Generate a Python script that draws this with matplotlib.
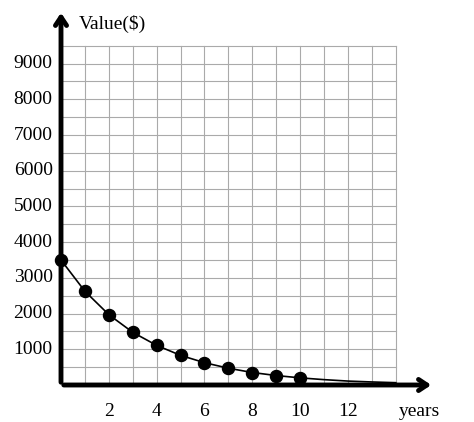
import matplotlib.pyplot as plt
import numpy as np

years = [0, 1, 2, 3, 4, 5, 6, 7, 8, 9, 10]
values = [3500, 2625, 1970, 1475, 1110, 830, 625, 470, 350, 265, 200]
curve_years = [0, 1, 2, 3, 4, 5, 6, 7, 8, 9, 10, 11, 12, 13, 14]
curve_values = [3500, 2625, 1970, 1475, 1110, 830, 625, 470, 350, 265, 200, 150, 110, 85, 65]
xticks = [2, 4, 6, 8, 10, 12]
yticks = [1000, 2000, 3000, 4000, 5000, 6000, 7000, 8000, 9000]

plt.rcParams['font.family'] = ['Liberation Serif']
W, H = 474, 422
fig = plt.figure(figsize=(W/100, H/100), dpi=100)
ax = fig.add_axes([61/W, (H-385)/H, 373/W, 375/H])
ax.set_xlim(0, 15.6)
ax.set_ylim(0, 10500)
for s in ax.spines.values():
    s.set_visible(False)
ax.set_xticks([]); ax.set_yticks([])

for x in range(1, 15):
    ax.plot([x, x], [0, 9500], color='#aaaaaa', lw=0.8, zorder=1)
for y in range(500, 10000, 500):
    ax.plot([0, 14], [y, y], color='#aaaaaa', lw=0.8, zorder=1)

ax.annotate('', xy=(15.6, 0), xytext=(0, 0), annotation_clip=False,
            arrowprops=dict(arrowstyle='->,head_length=0.6,head_width=0.4', lw=3.5, color='black'), zorder=4)
ax.annotate('', xy=(0, 10500), xytext=(0, 0), annotation_clip=False,
            arrowprops=dict(arrowstyle='->,head_length=0.6,head_width=0.4', lw=3.5, color='black'), zorder=4)

ax.plot(curve_years, curve_values, color='black', lw=1.2, zorder=3)
ax.scatter(years, values, s=75, color='black', zorder=5, clip_on=False)

for t in xticks:
    ax.text(t, -750, str(t), ha='center', va='center', fontsize=14)
for t in yticks:
    ax.text(-0.35, t, str(t), ha='right', va='center', fontsize=14)
ax.text(15.0, -750, 'years', ha='center', va='center', fontsize=14)
ax.text(0.75, 10100, 'Value($)', ha='left', va='center', fontsize=14)

fig.savefig('out.png', dpi=100)
